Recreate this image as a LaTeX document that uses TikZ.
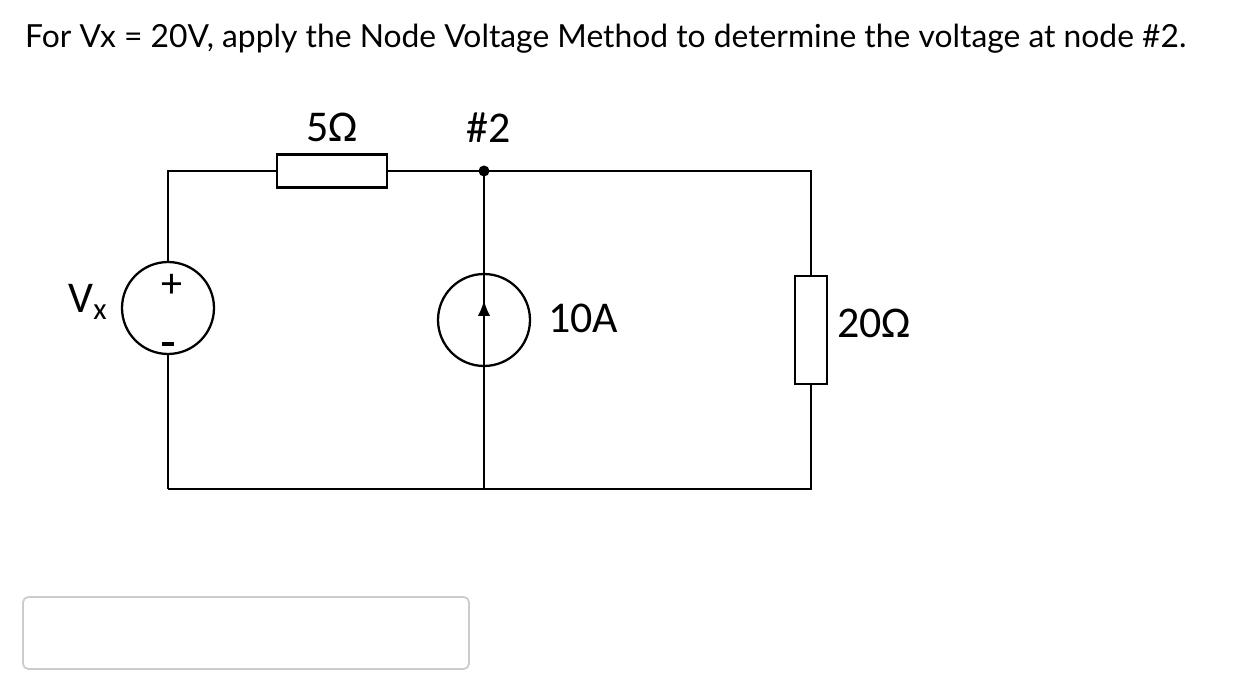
\documentclass[tikz,border=0pt]{standalone}
\usepackage{fontspec}
\usetikzlibrary{arrows.meta}
\setmainfont{Carlito}
\newfontfamily\titlefont{Lato}
\tikzset{
  wire/.style={line width=1.3pt},
  res/.style={draw,line width=1.3pt,fill=white,inner sep=0pt},
  src/.style={draw,circle,line width=1.3pt,minimum size=1.84cm,inner sep=0pt,fill=white},
  lbl/.style={font=\fontsize{25}{28}\selectfont}
}
\begin{document}
\begin{tikzpicture}[x=0.02cm,y=-0.02cm]
\useasboundingbox (0,0) rectangle (1240,692);
\node [anchor=west,font=\titlefont\fontsize{18.1}{21}\selectfont] (title) at (19,39) {For Vx = 20V, apply the Node Voltage Method to determine the voltage at node \#2.};
% corners
\coordinate (tl) at (168,171);
\coordinate (bl) at (168,489);
\coordinate (tr) at (811,171);
\coordinate (br) at (811,489);
\coordinate (n2) at (484,171);
\coordinate (b2) at (484,489);
\draw [wire] (bl) -- (tl) -- (tr) -- (br) -- (bl);
\draw [wire] (n2) -- (b2);
\node [res,minimum width=2.2cm,minimum height=0.66cm] (r5) at (332,171) {};
\node [res,minimum width=0.64cm,minimum height=2.16cm] (r20) at (811,330) {};
\node [src] (vx) at (168,308) {};
\node [src] (ia) at (484,320) {};
\draw [wire] (ia.south) -- (ia.north);
\draw [-{Latex[length=9pt,width=7pt]},line width=1.3pt] (484,330) -- (484,300);
\node [font=\fontsize{24}{26}\selectfont] (plus) at (172,286) {+};
\draw [line width=1.8pt] (162,344) -- (174,344);
\fill (n2) circle (5.5);
% labels
\node [lbl] (l5) at (332,127) {5Ω};
\node [lbl] (l2) at (489,128) {\#2};
\node [lbl] (lvx) at (88,302) {V\textsubscript{x}};
\node [lbl] (l10) at (583,318) {10A};
\node [lbl] (l20) at (874,323) {20Ω};
% answer box
\draw [gray!40,line width=1pt,rounded corners=3] (23,597) rectangle (469,669);
\end{tikzpicture}
\end{document}
